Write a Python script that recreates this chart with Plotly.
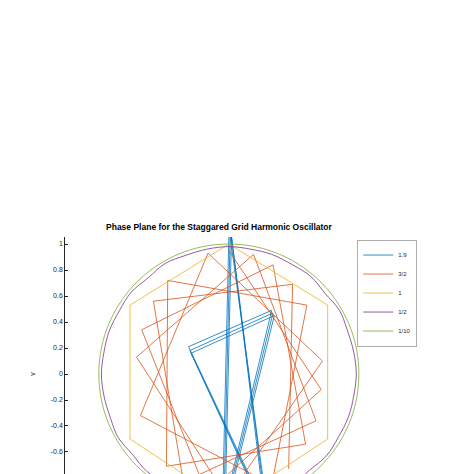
import plotly.graph_objects as go

# step sizes shown in the legend
labels = ["1.9", "3/2", "1", "1/2", "1/10"]
colors = ["#0072BD", "#D95319", "#EDB120", "#7E2F8E", "#77AC30"]

# h = 1.9
x_19 = [0.00, -0.05, 0.33, -0.31, 0.30, 0.01, -0.04, 0.34, -0.30, 0.29, 0.02, -0.03, 0.35, -0.29, 0.28, 0.02]
v_19 = [1.06, -1.08, 0.49, 0.21, -1.08, 1.06, -1.08, 0.47, 0.18, -1.08, 1.06, -1.08, 0.45, 0.16, -1.08, 1.06]

# h = 3/2
x_32 = [0.00, 0.71, -0.17, -0.67, 0.34, 0.59, -0.48, -0.47, 0.60, 0.33, -0.68, -0.16, 0.72, -0.01,
        -0.71, 0.19, 0.67, -0.35, -0.58, 0.49, 0.46]
v_32 = [0.95, -0.12, -0.92, 0.34, 0.84, -0.54, -0.71, 0.72, 0.53, -0.85, -0.32, 0.93, 0.10, -0.95,
        0.13, 0.92, -0.36, -0.83, 0.56, 0.69, -0.73]

# h = 1
x_1 = [0.00, 0.76, 0.76, 0.00, -0.76, -0.76, 0.00]
v_1 = [1.00, 0.53, -0.50, -1.00, -0.50, 0.53, 1.00]

# h = 1/2 (slightly wobbly, just inside the 1/10 curve)
x_12 = [0.98, 0.96, 0.91, 0.85, 0.74, 0.63, 0.49, 0.33, 0.17, 0.00, -0.17, -0.34, -0.49, -0.62, -0.75,
        -0.84, -0.92, -0.96, -0.98, -0.96, -0.91, -0.85, -0.74, -0.63, -0.49, -0.33, -0.17, 0.00,
        0.17, 0.34, 0.49, 0.62, 0.75, 0.84, 0.92, 0.96, 0.98]
v_12 = [0.00, 0.17, 0.34, 0.49, 0.62, 0.75, 0.84, 0.92, 0.96, 0.98, 0.96, 0.91, 0.85, 0.74, 0.63,
        0.49, 0.33, 0.17, 0.00, -0.17, -0.34, -0.49, -0.62, -0.75, -0.84, -0.92, -0.96, -0.98,
        -0.96, -0.91, -0.85, -0.74, -0.63, -0.49, -0.33, -0.17, 0.00]

# h = 1/10
x_110 = [1.00, 0.985, 0.940, 0.866, 0.766, 0.643, 0.500, 0.342, 0.174, 0.000, -0.174, -0.342, -0.500,
         -0.643, -0.766, -0.866, -0.940, -0.985, -1.00, -0.985, -0.940, -0.866, -0.766, -0.643, -0.500,
         -0.342, -0.174, 0.000, 0.174, 0.342, 0.500, 0.643, 0.766, 0.866, 0.940, 0.985, 1.00]
v_110 = [0.000, 0.174, 0.342, 0.500, 0.643, 0.766, 0.866, 0.940, 0.985, 1.00, 0.985, 0.940, 0.866,
         0.766, 0.643, 0.500, 0.342, 0.174, 0.000, -0.174, -0.342, -0.500, -0.643, -0.766, -0.866,
         -0.940, -0.985, -1.00, -0.985, -0.940, -0.866, -0.766, -0.643, -0.500, -0.342, -0.174, 0.000]

series = [(x_19, v_19), (x_32, v_32), (x_1, v_1), (x_12, v_12), (x_110, v_110)]

fig = go.Figure()
for (xs, vs), name, c in zip(series, labels, colors):
    fig.add_trace(go.Scatter(x=xs, y=vs, mode="lines", name=name,
                             line=dict(color=c, width=0.8, shape="spline" if name in ("1/2", "1/10") else "linear")))

fig.update_layout(
    width=474, height=560,
    margin=dict(l=57, r=62, t=229, b=57),
    plot_bgcolor="white", paper_bgcolor="white",
    font=dict(family="Liberation Sans, Arial", size=7, color="#262626"),
    title=dict(text="<b>Phase Plane for the Staggared Grid Harmonic Oscillator</b>",
               x=0.445, xanchor="center", y=1 - 219 / 560, yanchor="middle",
               font=dict(size=8.5, color="black")),
    showlegend=True,
    legend=dict(x=0.99, xanchor="right", y=0.99, yanchor="top",
                bordercolor="#999999", borderwidth=0.8, bgcolor="white",
                font=dict(size=6), tracegroupgap=0, itemwidth=30),
)
fig.update_xaxes(range=[-1.26, 1.47], showgrid=False, zeroline=False, showticklabels=False,
                 showline=False)
fig.update_yaxes(range=[-1.054, 1.054], showgrid=False, zeroline=False,
                 tickvals=[-1, -0.8, -0.6, -0.4, -0.2, 0, 0.2, 0.4, 0.6, 0.8, 1],
                 ticktext=["-1", "-0.8", "-0.6", "-0.4", "-0.2", "0", "0.2", "0.4", "0.6", "0.8", "1"],
                 ticks="inside", ticklen=3, tickcolor="#262626", showline=True,
                 linecolor="#262626", linewidth=0.6,
                 title=dict(text="v", standoff=14, font=dict(size=7)))

fig.write_html("out.html")
